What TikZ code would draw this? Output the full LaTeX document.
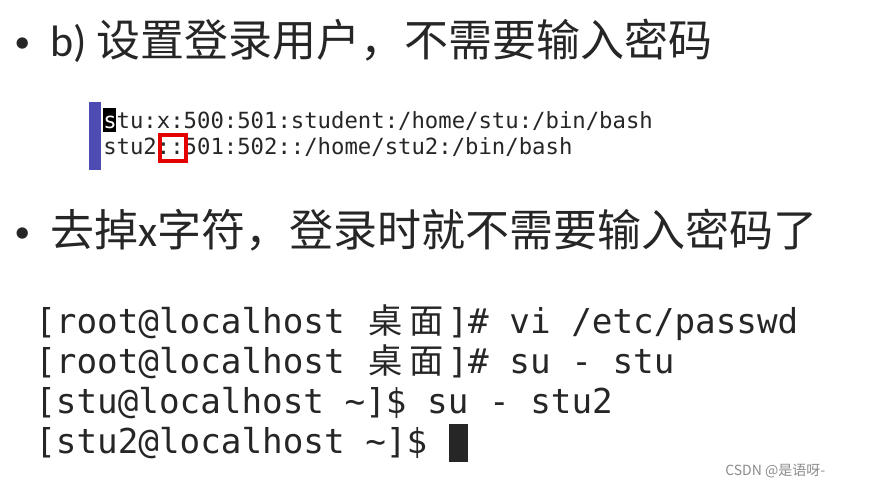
\documentclass[tikz,border=0pt]{standalone}
\usepackage{fontspec}
\setmainfont{Carlito}
\newfontfamily\cjk{Noto Sans CJK SC}
\newfontfamily\mono{DejaVu Sans Mono}
\begin{document}
\begin{tikzpicture}[x=0.75pt,y=-0.75pt,
  txt/.style={anchor=base west,inner sep=0pt,text=black!85},
  big/.style={txt,font=\fontsize{33}{33}\selectfont},
  bul/.style={txt,font=\fontsize{24}{24}\selectfont},
  small/.style={txt,font=\mono\fontsize{16.7}{16.7}\selectfont},
  term/.style={txt,font=\mono\fontsize{25.7}{25.7}\selectfont}]
\useasboundingbox (0,0) rectangle (876,488);
\newcommand{\cj}[1]{\makebox[1.2em]{\cjk #1}}
\node[bul] (b1) at (14,53) {•};
\node[big] (t1) at (50,57) {b) {\cjk 设置登录用户，不需要输入密码}};
\fill[blue!40!gray] (89,102) rectangle (101,170);
\fill[black] (103,108) rectangle (116,132);
\node[small] (l1) at (103,129) {\textcolor{white}{s}tu:x:500:501:student:/home/stu:/bin/bash};
\node[small] (l2) at (103,155) {stu2::501:502::/home/stu2:/bin/bash};
\draw[red!90!black,line width=3pt] (160,135) rectangle (186,161);
\node[bul] (b2) at (14,243) {•};
\node[big] (t2) at (50,247) {{\cjk 去掉}x{\cjk 字符，登录时就不需要输入密码了}};
\node[term] (c1) at (35,334) {[root@localhost \cj{桌}\cj{面}]\# vi /etc/passwd};
\node[term] (c2) at (35,374) {[root@localhost \cj{桌}\cj{面}]\# su - stu};
\node[term] (c3) at (35,414) {[stu@localhost \textasciitilde]\$ su - stu2};
\node[term] (c4) at (35,454) {[stu2@localhost \textasciitilde]\$};
\fill[black!85] (449,424) rectangle (468,462);
\node[txt,font=\cjk\fontsize{10.5}{10.5}\selectfont,text=black!45] (w) at (725,476) {CSDN @是语呀-};
\end{tikzpicture}
\end{document}
